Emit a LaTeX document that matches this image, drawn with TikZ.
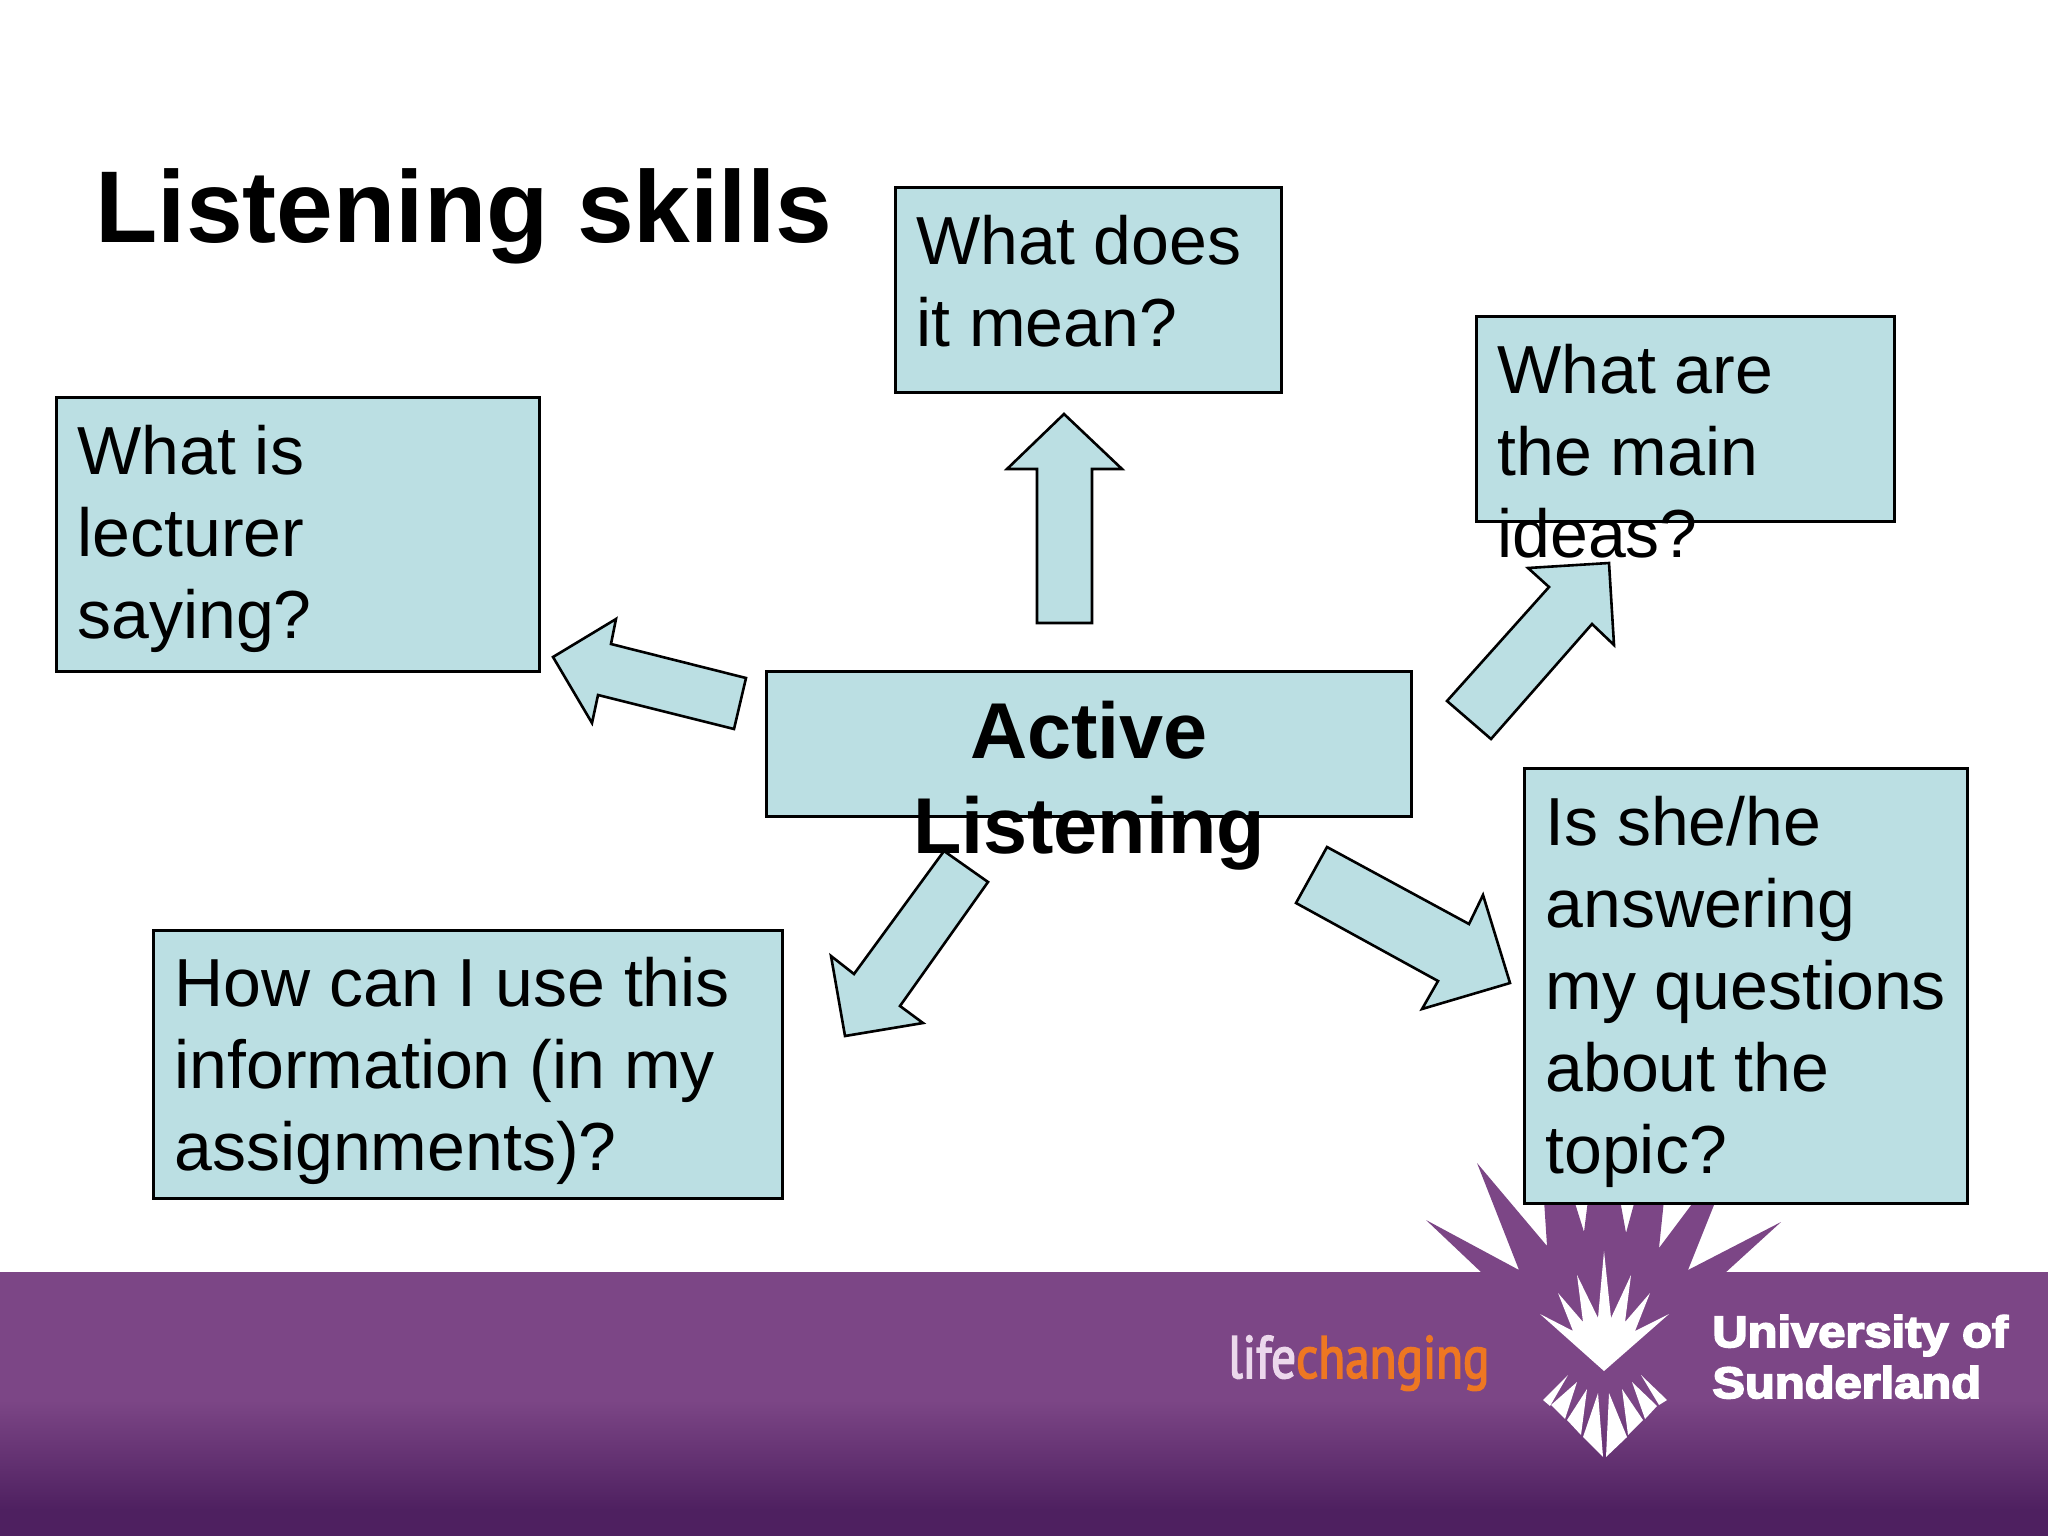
\documentclass[tikz,border=0pt]{standalone}
\usepackage{fontspec}
\setmainfont{Liberation Sans}
\newfontfamily\lifefont[FakeStretch=0.82,FakeBold=2.5]{PT Sans}
\newfontfamily\unifont[FakeStretch=1.11,FakeBold=4]{Liberation Sans Bold}
\definecolor{boxblue}{HTML}{BBDFE3}
\definecolor{bandtop}{HTML}{7C4686}
\definecolor{bandlow}{HTML}{4E2060}
\definecolor{lifepink}{HTML}{ECD8EC}
\definecolor{lifeorange}{HTML}{EE7722}
\tikzset{
  qbox/.style={rectangle, fill=boxblue, draw=black, line width=1.3pt, inner sep=0pt, anchor=north west},
  qtext/.style={inner sep=0pt, anchor=north west, align=left, font=\fontsize{34}{41}\selectfont},
  blockarrow/.style={fill=boxblue, draw=black, line width=1.3pt, line join=miter}
}
\begin{document}
\begin{tikzpicture}[x=0.5pt,y=-0.5pt]
\useasboundingbox (0,0) rectangle (2048,1536);
% band and logo
\fill [bandtop] (0,1272) rectangle (2048,1400);
\shade [top color=bandtop, bottom color=bandlow] (0,1400) rectangle (2048,1510);
\fill [bandlow] (0,1510) rectangle (2048,1536);
\fill [bandtop] (1482,1273) -- (1426,1220) -- (1519,1270) -- (1477,1163) -- (1547,1246) -- (1544,1200) -- (1574,1200) -- (1584,1232) -- (1588,1200) -- (1620,1200) -- (1626,1233) -- (1635,1200) -- (1664,1200) -- (1659,1248) -- (1695,1200) -- (1716,1200) -- (1688,1270) -- (1781,1222) -- (1725,1273) -- cycle;
\fill [white] (1604,1371) -- (1540,1314) -- (1573,1331) -- (1558,1293) -- (1583,1322) -- (1577,1275) -- (1598,1318) -- (1604,1251) -- (1611,1318) -- (1631,1275) -- (1625,1322) -- (1650,1293) -- (1635,1331) -- (1669,1314) -- cycle;
\fill [white] (1568,1375) -- (1543,1400) -- (1550,1406) -- cycle;
\fill [white] (1577,1382) -- (1551,1405) -- (1565,1419) -- cycle;
\fill [white] (1587,1389) -- (1567,1420) -- (1581,1435) -- cycle;
\fill [white] (1598,1393) -- (1583,1437) -- (1603,1457) -- cycle;
\fill [white] (1609,1393) -- (1606,1457) -- (1627,1437) -- cycle;
\fill [white] (1622,1389) -- (1628,1435) -- (1643,1420) -- cycle;
\fill [white] (1632,1382) -- (1645,1419) -- (1657,1406) -- cycle;
\fill [white] (1641,1375) -- (1659,1405) -- (1667,1400) -- cycle;
\node (life) [inner sep=0pt, anchor=base west, font=\lifefont\fontsize{30}{30}\selectfont] at (1228,1378) {\textcolor{lifepink}{life}\textcolor{lifeorange}{changing}};
\node (university) [inner sep=0pt, anchor=base west, text=white, font=\unifont\fontsize{22}{22}\selectfont] at (1712,1347) {University of};
\node (sunderland) [inner sep=0pt, anchor=base west, text=white, font=\unifont\fontsize{22}{22}\selectfont] at (1712,1398) {Sunderland};
% title
\node (title) [inner sep=0pt, anchor=base west, font=\bfseries\fontsize{51}{58}\selectfont] at (95,242) {Listening skills};
% boxes
\node (meanbox) [qbox, minimum width=193pt, minimum height=102.5pt] at (894,186) {};
\node (ideasbox) [qbox, minimum width=209pt, minimum height=102.5pt] at (1475,315) {};
\node (sayingbox) [qbox, minimum width=241.5pt, minimum height=137pt] at (55,396) {};
\node (activebox) [qbox, minimum width=322.5pt, minimum height=72.5pt] at (765,670) {};
\node (usebox) [qbox, minimum width=314.5pt, minimum height=134pt] at (152,929) {};
\node (answerbox) [qbox, minimum width=221.5pt, minimum height=217.5pt] at (1523,767) {};
% texts
\node (meantext) [qtext] at (916,215) {What does\\it mean?};
\node (ideastext) [qtext] at (1497,344) {What are\\the main\\ideas?};
\node (sayingtext) [qtext] at (77,425) {What is\\lecturer\\saying?};
\node (usetext) [qtext] at (174,957) {How can I use this\\information (in my\\assignments)?};
\node (answertext) [qtext] at (1545,796) {Is she/he\\answering\\my questions\\about the\\topic?};
\node (activetext) [inner sep=0pt, anchor=north, align=center, font=\bfseries\fontsize{39.6}{47.5}\selectfont] at (1089,701) {Active\\Listening};
% arrows
\draw [blockarrow] (1064,414) -- (1122,469) -- (1092,469) -- (1092,623) -- (1037,623) -- (1037,469) -- (1007,469) -- cycle;
\draw [blockarrow] (553,657) -- (616,619) -- (611,644) -- (746,678) -- (734,729) -- (598,695) -- (592,723) -- cycle;
\draw [blockarrow] (1609,563) -- (1614,645) -- (1592,624) -- (1491,739) -- (1447,701) -- (1549,587) -- (1528,568) -- cycle;
\draw [blockarrow] (845,1036) -- (831,956) -- (854,974) -- (944,851) -- (988,882) -- (900,1006) -- (923,1023) -- cycle;
\draw [blockarrow] (1510,983) -- (1422,1009) -- (1438,981) -- (1296,903) -- (1327,847) -- (1469,924) -- (1483,895) -- cycle;
\end{tikzpicture}
\end{document}
